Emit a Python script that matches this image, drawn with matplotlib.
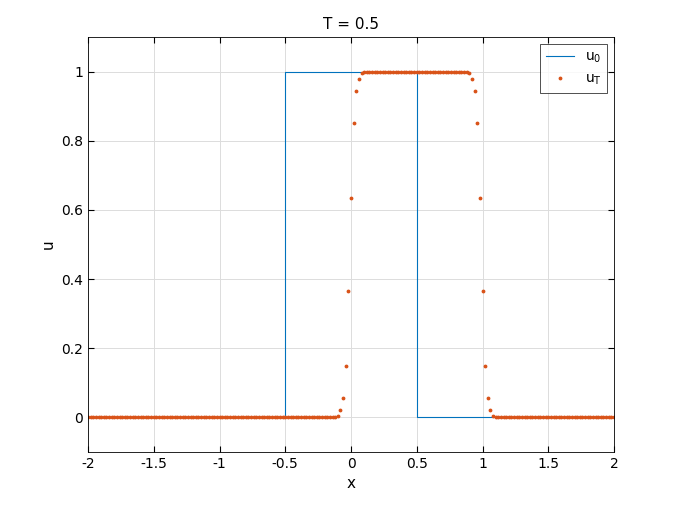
import numpy as np
import matplotlib
matplotlib.use("Agg")
import matplotlib.pyplot as plt

# initial condition u0 (step)
x0 = [-2, -0.5, -0.5, 0.5, 0.5, 2]
u0 = [0, 0, 1, 1, 0, 0]

# solution at T
xT = np.round(np.arange(-2, 2.0001, 0.02), 2)
left_x = [-0.1, -0.08, -0.06, -0.04, -0.02, 0.0, 0.02, 0.04, 0.06, 0.08, 0.1]
left_u = [0.005, 0.02, 0.055, 0.15, 0.365, 0.635, 0.85, 0.945, 0.98, 0.995, 0.998]
right_x = [0.88, 0.9, 0.92, 0.94, 0.96, 0.98, 1.0, 1.02, 1.04, 1.06, 1.08]
right_u = [0.998, 0.995, 0.98, 0.945, 0.85, 0.635, 0.365, 0.15, 0.055, 0.02, 0.005]

uT = np.where((xT > 0.1) & (xT < 0.88), 1.0, 0.0)
for xv, uv in zip(left_x + right_x, left_u + right_u):
    uT[np.isclose(xT, xv)] = uv

fig = plt.figure(figsize=(6.77, 5.08), dpi=100)
ax = fig.add_axes([88/677, 1-452/508, (614-88)/677, (452-37)/508])
ax.plot(x0, u0, color='#0072BD', lw=0.8, label='$\\mathregular{u_0}$')
ax.plot(xT, uT, '.', color='#D95319', ms=3.5, label='$\\mathregular{u_T}$')
ax.set_xlim(-2, 2)
ax.set_ylim(-0.1, 1.1)
ax.set_xticks([-2, -1.5, -1, -0.5, 0, 0.5, 1, 1.5, 2])
ax.set_xticklabels(['-2', '-1.5', '-1', '-0.5', '0', '0.5', '1', '1.5', '2'])
ax.set_yticks([0, 0.2, 0.4, 0.6, 0.8, 1])
ax.set_yticklabels(['0', '0.2', '0.4', '0.6', '0.8', '1'])
ax.grid(True, color='#dcdcdc', lw=0.7)
ax.set_axisbelow(True)
ax.tick_params(direction='in', labelsize=10, top=True, right=True, length=4)
for s in ax.spines.values():
    s.set_linewidth(0.6)
ax.set_xlabel('x', fontsize=11)
ax.set_ylabel('u', fontsize=11)
ax.set_title('T = 0.5', fontsize=11)
leg = ax.legend(loc='upper right', fancybox=False, edgecolor='black', fontsize=10)
leg.get_frame().set_linewidth(0.6)
fig.savefig('out.png', dpi=100)
